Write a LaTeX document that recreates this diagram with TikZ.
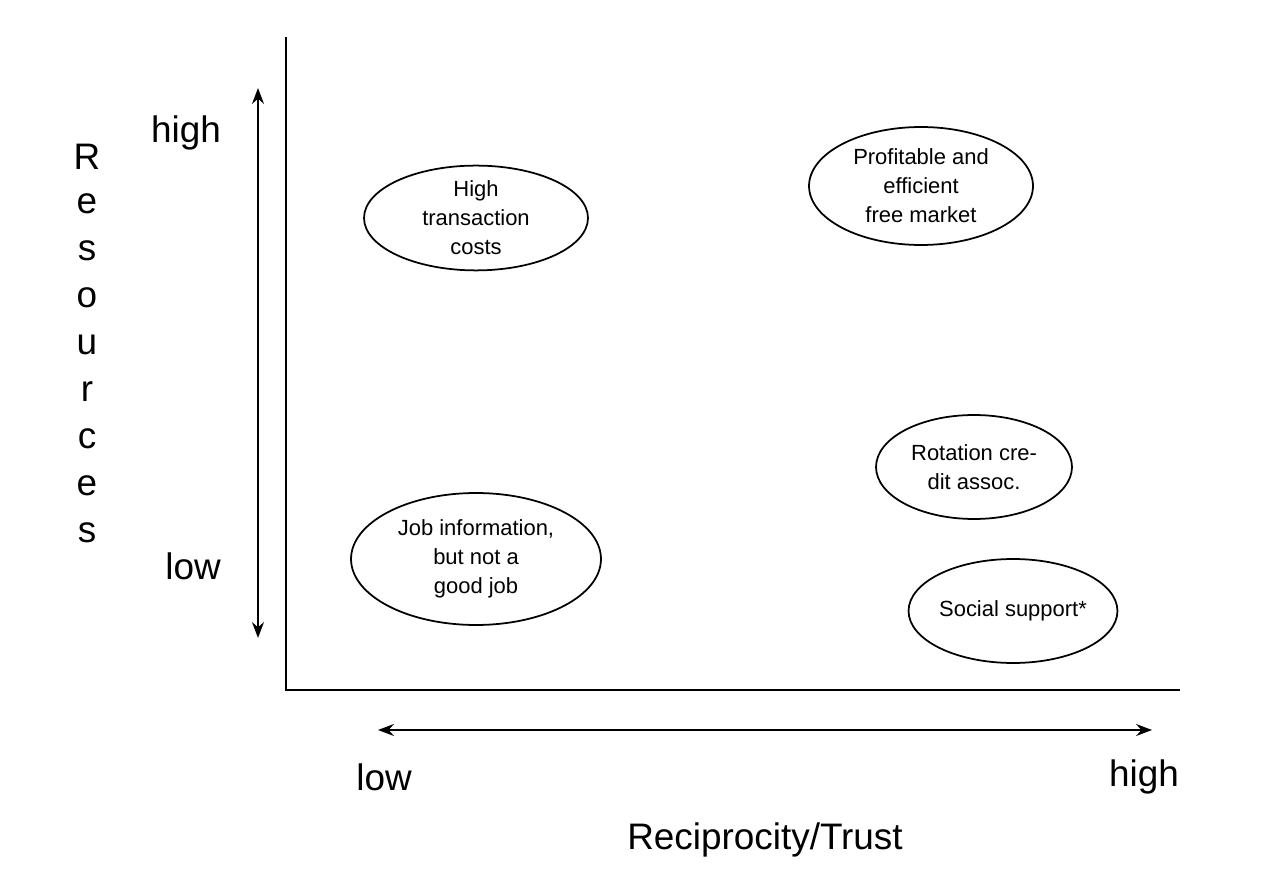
\documentclass[tikz,border=0pt]{standalone}
\usepackage{fontspec}
\setmainfont{Liberation Sans}
\usetikzlibrary{shapes.geometric,arrows.meta}
\begin{document}
\begin{tikzpicture}[x=0.02cm,y=-0.02cm,
    bubble/.style={ellipse, draw, line width=1pt, inner sep=0pt, align=center, font=\fontsize{12.5}{16.5}\selectfont},
    axis/.style={line width=1.3pt},
    dir/.style={line width=1.3pt, {Stealth[length=9pt]}-{Stealth[length=9pt]}},
    big/.style={font=\fontsize{21}{25}\selectfont}]
  \useasboundingbox (0,0) rectangle (1264,884);
  \coordinate (o) at (286,690);
  \coordinate (ytop) at (286,37);
  \coordinate (xend) at (1180,690);
  \draw[axis] (ytop) -- (o) -- (xend);
  \coordinate (vb) at (258,638);
  \coordinate (vt) at (258,88);
  \coordinate (hl) at (378,730);
  \coordinate (hr) at (1152,730);
  \draw[dir] (vb) -- (vt);
  \draw[dir] (hl) -- (hr);
  \node[big] (yhigh) at (186,133) {high};
  \node[big] (ylow) at (193,566) {low};
  \node[big] (xlow) at (384,777) {low};
  \node[big] (xhigh) at (1144,777) {high};
  \node[big] (xlab) at (765,840) {Reciprocity/Trust};
  \foreach \ch [count=\i from 0] in {R,e,s,o,u,r,c,e,s}
    \node[big] (res\i) at (87,157+47*\i) {\ch};
  \node[bubble, minimum width=224\pgflinewidth, minimum width=4.48cm, minimum height=2.08cm] (htc) at (476,218) {High\\transaction\\costs};
  \node[bubble, minimum width=4.48cm, minimum height=2.36cm] (pefm) at (921,186) {Profitable and\\efficient\\free market};
  \node[bubble, minimum width=3.92cm, minimum height=2.08cm] (rca) at (974,467) {Rotation cre-\\dit assoc.};
  \node[bubble, minimum width=5cm, minimum height=2.64cm] (job) at (476,559) {Job information,\\but not a\\good job};
  \node[bubble, minimum width=3.92cm, minimum height=2.08cm] (soc) at (1013,611) {Social support*};
\end{tikzpicture}
\end{document}
